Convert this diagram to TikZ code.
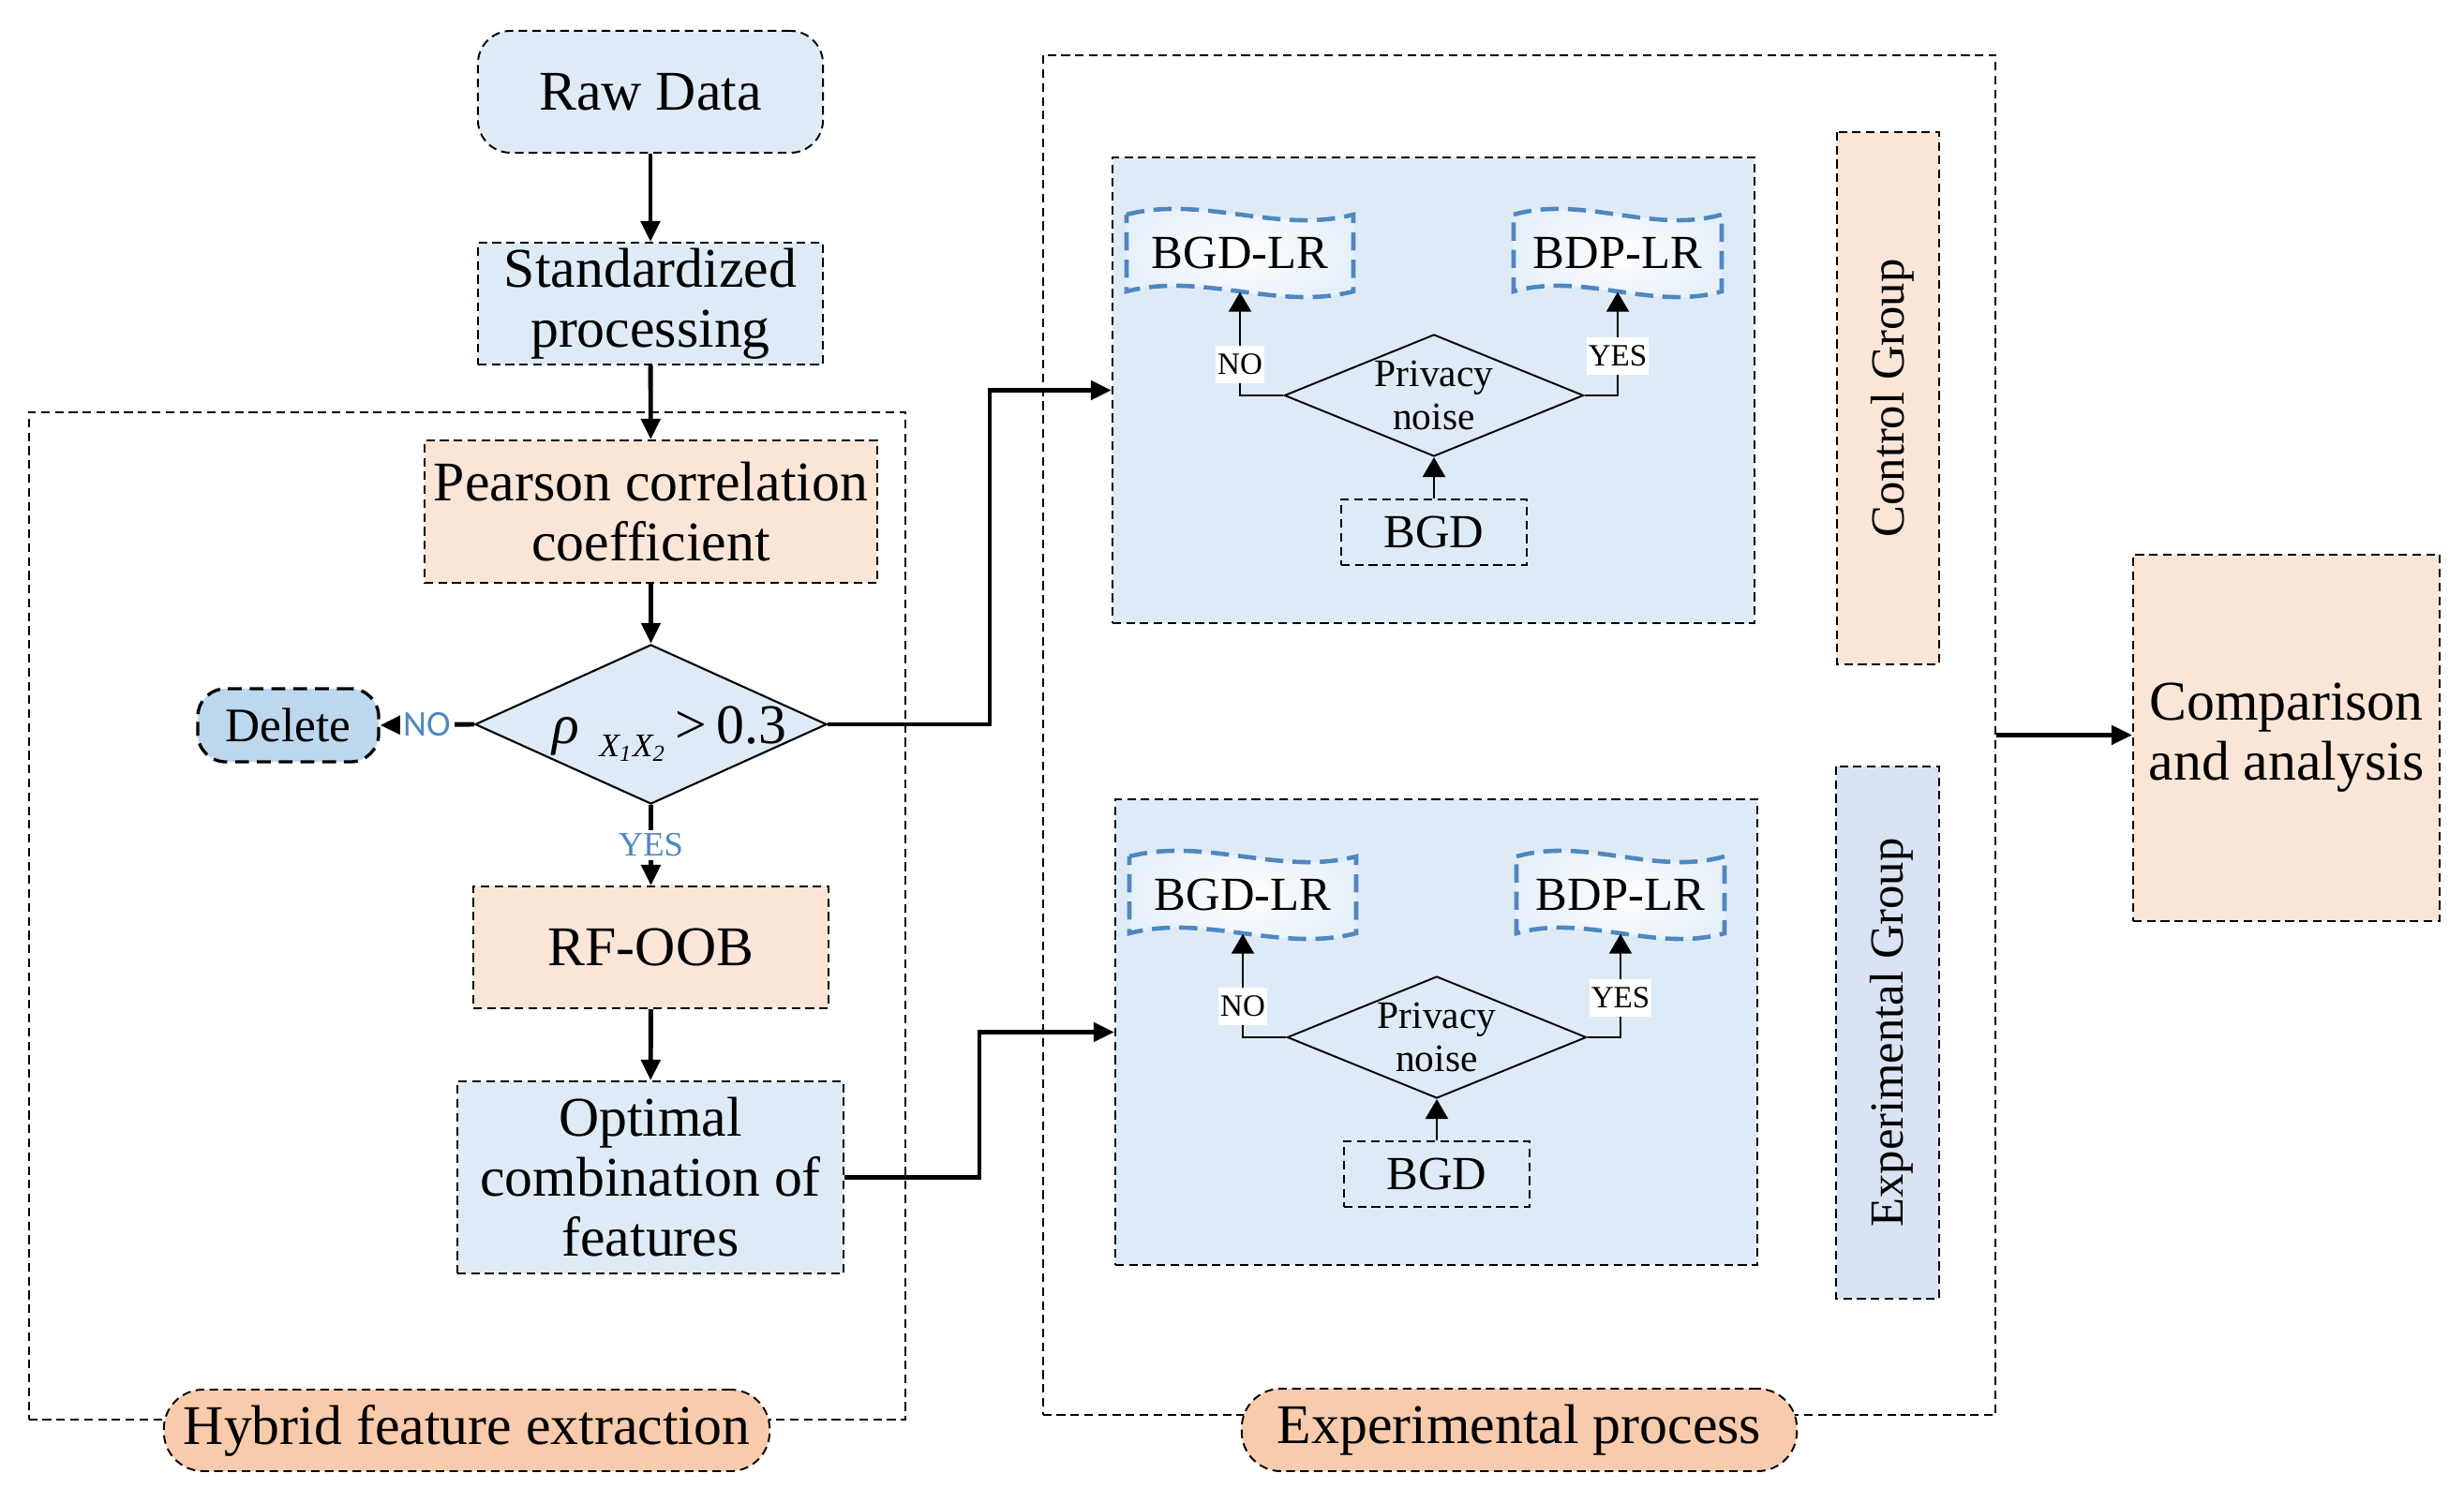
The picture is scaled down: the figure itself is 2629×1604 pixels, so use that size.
\documentclass[tikz,border=0pt]{standalone}
\usepackage{fontspec}
\setmainfont{Liberation Serif}
\newfontfamily\nosans{Carlito}
\usetikzlibrary{shapes.geometric,arrows.meta}

\definecolor{boxblue}{HTML}{DEEBF7}
\definecolor{boxpeach}{HTML}{FBE5D6}
\definecolor{tagpeach}{HTML}{F8CBAD}
\definecolor{delblue}{HTML}{BDD7EE}
\definecolor{grplilac}{HTML}{DAE3F3}
\definecolor{noteblue}{HTML}{4F87C0}

\tikzset{
  dashbox/.style={draw, dash pattern=on 2.6pt off 1.6pt, line width=0.55pt, inner sep=0pt, align=center},
  bigtext/.style={font=\fontsize{17}{18.2}\selectfont},
  midtext/.style={font=\fontsize{14.4}{16}\selectfont},
  flow/.style={line width=1.4pt, -{Triangle[length=0.22cm,width=0.2cm]}},
  thinflow/.style={line width=0.6pt, -{Triangle[length=0.21cm,width=0.24cm]}},
  wavepath/.style={draw=noteblue, line width=1.3pt, dash pattern=on 5.5pt off 2.8pt,
    inner color=white, outer color=boxblue!75!white},
  wavetext/.style={midtext, inner sep=0pt, minimum height=0.82cm},
  tag/.style={fill=white, inner xsep=0.6pt, inner ysep=2.5pt, font=\fontsize{9.4}{11}\selectfont}
}

\begin{document}
\begin{tikzpicture}[x=0.01cm, y=-0.01cm]
\useasboundingbox (0,0) rectangle (2629,1604);

\node[dashbox, minimum width=9.35cm, minimum height=10.75cm] (hyb) at (498.5,977.5) {};
\node[dashbox, minimum width=10.16cm, minimum height=14.51cm] (expt) at (1621,784.5) {};

\node[dashbox, bigtext, fill=boxblue, rounded corners=0.35cm, minimum width=3.68cm, minimum height=1.30cm] (raw) at (694,98) {Raw Data};
\node[dashbox, bigtext, fill=boxblue, minimum width=3.68cm, minimum height=1.30cm] (std) at (694,324) {Standardized\\processing};
\node[dashbox, bigtext, fill=boxpeach, minimum width=4.83cm, minimum height=1.52cm] (pear) at (694.5,546) {Pearson correlation\\coefficient};
\node[diamond, draw, fill=boxblue, line width=0.6pt, inner sep=0pt, minimum width=3.75cm, minimum height=1.70cm,
  label={[bigtext, xshift=0.2cm, yshift=-0.1cm]center:{\itshape ρ}\hspace{0.35em}\raisebox{-0.5ex}{\fontsize{10}{10}\selectfont\itshape X\textsubscript{1}X\textsubscript{2}}\,>\,0.3}] (rho) at (694.5,773) {};
\node[draw, line width=0.95pt, dash pattern=on 4.2pt off 2.4pt, fill=delblue, rounded corners=0.3cm,
  minimum width=1.93cm, minimum height=0.78cm, inner sep=0pt, font=\fontsize{14.6}{16}\selectfont] (del) at (307.5,774) {Delete};
\node[dashbox, bigtext, fill=boxpeach, minimum width=3.79cm, minimum height=1.30cm] (rf) at (694.5,1011) {RF-OOB};
\node[dashbox, bigtext, fill=boxblue, minimum width=4.12cm, minimum height=2.05cm] (opt) at (694,1256.5) {Optimal\\combination of\\features};

\node[dashbox, bigtext, fill=tagpeach, rounded corners=0.42cm, minimum width=6.46cm, minimum height=0.87cm] (hybtag) at (498,1526.5) {Hybrid feature extraction};
\node[dashbox, bigtext, fill=tagpeach, rounded corners=0.42cm, minimum width=5.92cm, minimum height=0.88cm] (expttag) at (1621,1526) {Experimental process};

\foreach \g/\dx/\dy in {ctrl/0/0, test/3/685}{
  \begin{scope}[shift={(\dx,\dy)}]
    \node[dashbox, fill=boxblue, minimum width=6.85cm, minimum height=4.97cm] (\g box) at (1529.5,416.5) {};
    \draw[wavepath] (1202,229) .. controls +(81,-21) and +(-81,21) .. (1444,229) -- (1444,311)
      .. controls +(-81,21) and +(81,-21) .. (1202,311) -- cycle;
    \draw[wavepath] (1615,229) .. controls +(74,-21) and +(-74,21) .. (1837,229) -- (1837,311)
      .. controls +(-74,21) and +(74,-21) .. (1615,311) -- cycle;
    \node[wavetext, minimum width=2.42cm] (\g lr) at (1323,270) {BGD-LR};
    \node[wavetext, minimum width=2.22cm] (\g dp) at (1726,270) {BDP-LR};
    \node[diamond, draw, line width=0.55pt, inner sep=0pt, minimum width=3.19cm, minimum height=1.30cm,
      label={[align=center, font=\fontsize{11.8}{13}\selectfont]center:Privacy\\noise}] (\g pn) at (1530,422) {};
    \node[dashbox, midtext, minimum width=1.98cm, minimum height=0.70cm] (\g bgd) at (1530,568) {BGD};
    \draw[thinflow] (\g bgd) -- (\g pn);
    \draw[thinflow] (\g pn.west) -| node[tag, pos=0.65] {NO} (\g lr.south);
    \draw[thinflow] (\g pn.east) -| node[tag, pos=0.69] {YES} (\g dp.south);
  \end{scope}
}

\node[dashbox, midtext, fill=boxpeach, rotate=90, minimum width=5.68cm, minimum height=1.09cm, text height=0.95em, text depth=0pt] (ctrlgrp) at (2014.5,425) {Control Group};
\node[dashbox, midtext, fill=grplilac, rotate=90, minimum width=5.68cm, minimum height=1.10cm, text height=0.95em, text depth=0pt] (testgrp) at (2014,1102) {Experimental Group};
\node[dashbox, bigtext, fill=boxpeach, minimum width=3.27cm, minimum height=3.91cm] (cmp) at (2439.5,787.5) {Comparison\\and analysis};

\draw[flow] (raw) -- (std);
\draw[flow] (std) -- (pear);
\draw[flow] (pear) -- (rho);
\draw[flow] (rho.west) -- node[fill=white, inner sep=1pt, text=noteblue, font=\nosans\fontsize{11}{13}\selectfont] {NO} (del.east);
\draw[flow] (rho) -- node[fill=white, inner sep=1pt, text=noteblue, font=\fontsize{10.4}{12}\selectfont] {YES} (rf);
\draw[flow] (rf) -- (opt);
\coordinate (up1) at (1056,773);
\coordinate (up2) at (1045,1256.5);
\draw[flow] (rho.east) -- (up1) |- (ctrlbox.west);
\draw[flow] (opt.east) -- (up2) |- (testbox.west);
\draw[flow] (expt.east) -- (expt.east -| cmp.west);
\end{tikzpicture}
\end{document}
